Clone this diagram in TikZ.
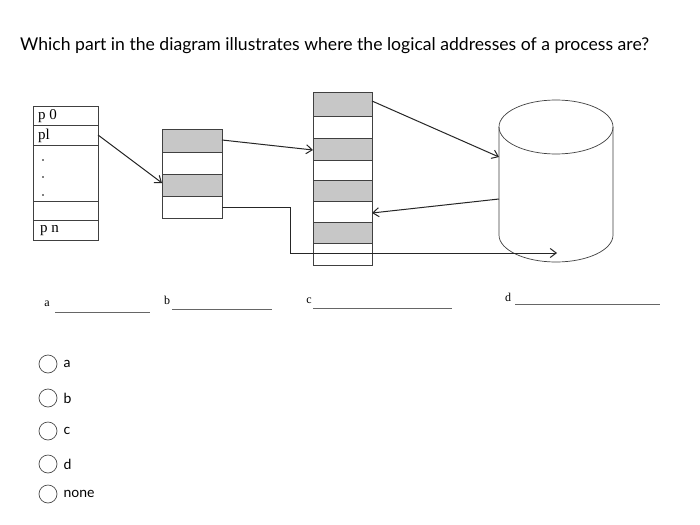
\documentclass[tikz,border=0pt]{standalone}
\usepackage{fontspec}
\usetikzlibrary{arrows.meta}
\newfontfamily\lato{Lato}
\newfontfamily\serifx{Liberation Serif}
\begin{document}
\begin{tikzpicture}[x=1pt,y=-1pt,
  cell/.style={draw=black!75,line width=0.7pt},
  gcell/.style={cell,fill=black!22},
  arr/.style={draw=black!85,line width=1pt,-{Straight Barb[length=6pt,width=9pt]}},
  radio/.style={draw=black!70,line width=0.7pt,circle,minimum size=18pt,inner sep=0pt},
  opt/.style={anchor=west,font=\lato\fontsize{14pt}{16pt}\selectfont},
  lab/.style={font=\serifx\fontsize{12pt}{13pt}\selectfont,anchor=base},
  tl/.style={anchor=west,font=\serifx\fontsize{15pt}{16pt}\selectfont,inner sep=0pt}]
\fill[white!95!blue!2] (0,0) rectangle (700,524);
\useasboundingbox (0,0) rectangle (700,524);
\node[anchor=west,font=\lato\fontsize{17.6pt}{20pt}\selectfont,inner sep=0pt] (title) at (20,46) {Which part in the diagram illustrates where the logical addresses of a process are?};
% left table
\draw[cell] (33,106) rectangle (98,125); \node[tl] (p0) at (38,116) {p 0};
\draw[cell] (33,125) rectangle (98,145); \node[tl] (p1) at (38,136) {pl};
\draw[cell] (33,145) rectangle (98,201);
\foreach \y in {160,177,195} \fill (43,\y) circle (0.8pt);
\draw[cell] (33,201) rectangle (98,220);
\draw[cell] (33,220) rectangle (98,240); \node[tl] (pn) at (40,231) {p n};
\coordinate (p1r) at (98,135);
% middle
\draw[gcell] (162,129) rectangle (222,152);
\draw[cell] (162,152) rectangle (222,174);
\draw[gcell] (162,174) rectangle (222,196);
\draw[cell] (162,196) rectangle (222,218);
\coordinate (m1) at (222,140); \coordinate (m2) at (162,183); \coordinate (m4) at (222,207);
% right column
\foreach \a/\b/\s in {92/116/gcell,116/138/cell,138/160/gcell,160/180/cell,180/201/gcell,201/222/cell,222/243/gcell,243/265/cell}
  \draw[\s] (313,\a) rectangle (372,\b);
\coordinate (r1) at (372,101); \coordinate (r2) at (313,150); \coordinate (r3) at (372,213);
% cylinder
\draw[black!75,line width=0.7pt] (556,127) ellipse (57 and 27);
\draw[black!75,line width=0.7pt] (499,127) -- (499,235) arc (180:0:57 and 27) -- (613,127);
\coordinate (c1) at (499,157); \coordinate (c2) at (499,199); \coordinate (c3) at (557,253);
\draw[arr] (p1r) -- (m2);
\draw[arr] (m1) -- (r2);
\draw[arr] (r1) -- (c1);
\draw[arr] (c2) -- (r3);
\draw[arr] (m4) -- (290,207) -- (290,253) -- (c3);
% labels
\node[lab] (la) at (47,306) {a}; \draw[black!60] (55,312) -- (150,312);
\node[lab] (lb) at (167,304) {b}; \draw[black!60] (172,309) -- (272,309);
\node[lab] (lc) at (309,303) {c}; \draw[black!60] (313,308) -- (452,308);
\node[lab] (ld) at (508,301) {d}; \draw[black!60] (515,304) -- (660,304);
% options
\foreach \y/\t [count=\i] in {364/a,398/b,431/c,464/d,494/none}{
  \node[radio] (r\i) at (48,\y) {};
  \node[opt] (o\i) at (60,\y) {\t};}
\end{tikzpicture}
\end{document}
